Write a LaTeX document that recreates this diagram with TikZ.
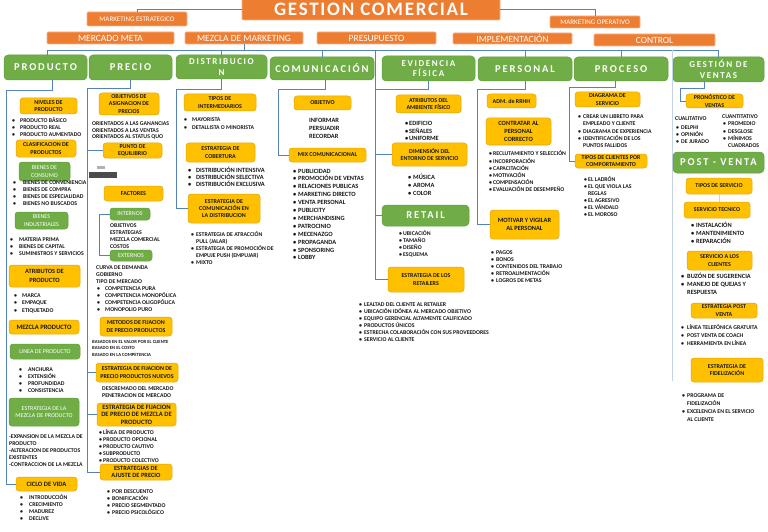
\documentclass[tikz,border=0pt]{standalone}
\usepackage{fontspec}
\setmainfont{Carlito}
\newfontfamily\hdfont{Carlito}[LetterSpace=18]
\newfontfamily\gcfont{Carlito}[LetterSpace=9]
\definecolor{orng}{RGB}{237,125,49}
\definecolor{orngL}{RGB}{246,180,140}
\definecolor{grn}{RGB}{112,173,71}
\definecolor{grnD}{RGB}{98,158,60}
\definecolor{yel}{RGB}{255,192,0}
\definecolor{yelD}{RGB}{225,165,10}
\definecolor{lnc}{RGB}{84,130,190}
\definecolor{ink}{RGB}{25,25,25}
\tikzset{
 obox/.style={fill=orng, draw=orngL, line width=0.6pt, text=white, inner sep=0pt, rounded corners=1pt, font=\fontsize{9.5}{10}\selectfont},
 gbox/.style={fill=grn, draw=grnD, line width=0.5pt, text=white, inner sep=0pt, rounded corners=4pt, align=center},
 ghead/.style={gbox, font=\hdfont\bfseries\fontsize{10.5}{11}\selectfont},
 ghead2/.style={gbox, font=\hdfont\bfseries\fontsize{9}{10.5}\selectfont},
 gsub/.style={gbox, rounded corners=3pt, font=\fontsize{6}{7.5}\selectfont},
 ybox/.style={fill=yel, draw=yelD, line width=0.5pt, text=ink, inner sep=0pt, rounded corners=3pt, align=center, font=\bfseries\fontsize{6}{7.4}\selectfont},
 txt/.style={anchor=base west, inner sep=0pt, text=ink, font=\bfseries\fontsize{5.8}{6}\selectfont},
 tbig/.style={font=\bfseries\fontsize{6.4}{7}\selectfont},
 tsm/.style={font=\bfseries\fontsize{4.7}{5}\selectfont},
 link/.style={draw=lnc, line width=0.8pt},
 sep/.style={draw=lnc!35, line width=0.8pt},
}
% box: [extra]{style}{name}{x1}{y1}{x2}{y2}{text}
\newcommand\BX[8][]{\node[#2,#1,minimum width={(#6-#4)*1pt},minimum height={(#7-#5)*1pt}] (#3) at ({(#4+#6)/2},{(#5+#7)/2}) {#8};}
% list: [extra]{name}{xbullet}{xtext}{y0}{dy}{marker/text,...}
\newcommand\LL[7][]{%
  \foreach \mk/\tx [count=\i] in {#7}{%
    \node[txt,#1] (#2-\i) at (#4,{#5+2+(\i-1)*#6}) {\tx};
    \if\mk b\node[txt,#1] (#2-b\i) at (#3,{#5+2+(\i-1)*#6}) {•};\fi
  }}
\begin{document}
\begin{tikzpicture}[x=1pt,y=-1pt]
\useasboundingbox[fill=white] (0,0) rectangle (768,532);

% ---------- header ----------
\BX[font=\gcfont\bfseries\fontsize{19}{20}\selectfont]{obox}{gc}{242}{-1}{500}{20}{GESTION COMERCIAL}
\BX[font=\fontsize{7}{8}\selectfont]{obox}{me}{87}{12}{187}{26}{MARKETING ESTRATEGICO}
\BX[font=\fontsize{7}{8}\selectfont]{obox}{mo}{550}{16}{640}{28}{MARKETING OPERATIVO}
\BX{obox}{mm}{47}{32}{174}{44}{MERCADO META}
\BX{obox}{mz}{185}{32}{303}{44}{MEZCLA DE MARKETING}
\BX{obox}{pr}{317}{32}{436}{44}{PRESUPUESTO}
\BX{obox}{im}{453}{33}{572}{44}{IMPLEMENTACIÓN}
\BX{obox}{ct}{594}{34}{715}{46}{CONTROL}

% ---------- green headers ----------
\BX{ghead}{prod}{4}{55}{87}{80}{PRODUCTO}
\BX{ghead}{prec}{89}{55}{172}{80}{PRECIO}
\BX{ghead2}{dist}{176}{55}{267}{79}{DISTRIBUCIO\\N}
\BX{ghead}{com}{270}{57}{374}{80}{COMUNICACIÓN}
\BX{ghead2}{evid}{382}{56}{475}{81}{EVIDENCIA\\FÍSICA}
\BX{ghead}{pers}{478}{57}{572}{81}{PERSONAL}
\BX{ghead}{proc}{574}{57}{668}{81}{PROCESO}
\BX{ghead2}{gv}{673}{57}{764}{82}{GESTIÓN DE\\VENTAS}

% ---------- connectors top ----------
\coordinate (busL) at (47,50);
\coordinate (busR) at (719,50);
\coordinate (sepE) at (375,50);
\coordinate (sepG) at (672,50);
\coordinate (sepGb) at (672,381);
\draw[link] (gc.west) -| (me.north);
\draw[link] (gc.east) -| (mo.north);
\draw[link] (busL) -- (busR);
\draw[link] (mz.south) -- (mz.south |- busL);
\draw[link] (busL) -- (busL |- prod.north);
\draw[link] (dist.north |- busL) -- (dist.north);
\draw[link] (com.north |- busL) -- (com.north);
\draw[link] (pers.north |- busL) -- (pers.north);
\draw[link] (proc.north |- busL) -- (proc.north);
\draw[link] (gv.north |- busL) -- (gv.north);
\draw[sep] (sepG) -- (sepGb);

% ---------- PRODUCTO column ----------
\BX{ybox}{niv}{20}{98}{77}{114}{NIVELES DE\\PRODUCTO}
\LL{l1}{12}{20}{121}{7}{b/PRODUCTO BÁSICO, b/PRODUCTO REAL, b/PRODUCTO AUMENTADO}
\BX{ybox}{clas}{16}{140}{76}{157}{CLASIFICACION DE\\PRODUCTOS}
\BX{gsub}{bcons}{19}{162}{70}{181}{BIENES DE\\CONSUMO}
\LL{l2}{13}{23}{182}{7}{b/BIENES DE CONVENIENCIA, b/BIENES DE COMPRA, b/BIENES DE ESPECIALIDAD, b/BIENES  NO BUSCADOS}
\BX{gsub}{bind}{15}{212}{68}{229}{BIENES\\INDUSTRIALES}
\LL{l3}{10}{19}{239}{7}{b/MATERIA PRIMA, b/BIENES DE CAPITAL, b/SUMINISTROS Y SERVICIOS}
\BX[font=\bfseries\fontsize{6.4}{8.5}\selectfont]{ybox}{atr}{9}{265}{80}{287}{ATRIBUTOS DE\\PRODUCTO}
\LL{l4}{14}{22}{295}{7.5}{b/MARCA, b/EMPAQUE, b/ETIQUETADO}
\BX[font=\bfseries\fontsize{6.6}{8}\selectfont]{ybox}{mzp}{9}{320}{79}{334}{MEZCLA PRODUCTO}
\BX{gsub}{linea}{10}{344}{80}{359}{LINEA DE PRODUCTO}
\LL{l5}{19}{28}{369}{7}{b/ANCHURA, b/EXTENSIÓN, b/PROFUNDIDAD, b/CONSISTENCIA}
\BX{gsub}{estmz}{9}{398}{79}{426}{ESTRATEGIA DE LA\\MEZCLA DE PRODUCTO}
\LL{l6}{9}{9}{436}{7}{n/-EXPANSION DE LA MEZCLA DE, n/PRODUCTO, n/-ALTERACION DE PRODUCTOS, n/EXISTENTES, n/-CONTRACCION DE LA MEZCLA}
\BX[font=\bfseries\fontsize{6.6}{8}\selectfont]{ybox}{ciclo}{16}{477}{77}{491}{CICLO DE VIDA}
\LL{l7}{20}{29}{497}{7}{b/INTRODUCCIÓN, b/CRECIMIENTO, b/MADUREZ, b/DECLIVE}
\coordinate (c1) at (6,90);
\draw[link] ([xshift=6.5]prod.south) |- (c1) |- (ciclo.west);

% ---------- PRECIO column ----------
\BX{ybox}{obj}{99}{93}{159}{115}{OBJETIVOS DE\\ASIGNACION DE\\PRECIOS}
\LL{l8}{92}{92}{123}{7}{n/ORIENTADOS A LAS GANANCIAS, n/ORIENTADOS A LAS VENTAS, n/ORIENTADOS AL STATUS QUO}
\BX{ybox}{punto}{103}{143}{162}{158}{PUNTO DE\\EQUILIBRIO}
\fill[black!30] (97,166) rectangle (105,169);
\fill[black!70] (89,172) rectangle (117,177.5);
\BX{ybox}{fact}{104}{186}{163}{201}{FACTORES}
\BX{gsub}{intern}{110}{208}{150}{220}{INTERNOS}
\LL{l9}{110}{110}{225}{7}{n/OBJETIVOS, n/ESTRATEGIAS, n/MEZCLA COMERCIAL, n/COSTOS}
\BX{gsub}{extern}{110}{250}{152}{261}{EXTERNOS}
\draw[link] (intern.west) -- ++(-10,0) |- (extern.west);
\LL{l10}{96}{96}{267}{7}{n/CURVA DE DEMANDA, n/GOBIERNO, n/TIPO DE MERCADO}
\LL{l11}{97}{105}{288}{7}{b/COMPETENCIA PURA, b/COMPETENCIA MONOPÓLICA, b/COMPETENCIA OLIGOPÓLICA, b/MONOPOLIO PURO}
\BX{ybox}{metod}{100}{317}{172}{336}{METODOS DE FIJACION\\DE PRECIO PRODUCTOS}
\LL[tsm]{l12}{92}{92}{341}{6.5}{n/BASADOS EN EL VALOR POR EL CLIENTE, n/BASADO EN EL COSTO, n/BASADO EN LA COMPETENCIA}
\BX{ybox}{nuevos}{96}{363}{178}{382}{ESTRATEGIA DE FIJACION DE\\PRECIO PRODUCTOS NUEVOS}
\LL{l13}{102}{102}{388}{7}{n/DESCREMADO DEL MERCADO, n/PENETRACION DE MERCADO}
\BX[font=\bfseries\fontsize{6.6}{7.6}\selectfont]{ybox}{mzpre}{97}{403}{176}{426}{ESTRATEGIA DE FIJACION\\DE PRECIO DE MEZCLA DE\\PRODUCTO}
\LL{l14}{99}{103}{432}{7}{b/LÍNEA DE PRODUCTO, b/PRODUCTO OPCIONAL, b/PRODUCTO CAUTIVO, b/SUBPRODUCTO, b/PRODUCTO COLECTIVO}
\BX[font=\bfseries\fontsize{6.4}{7.6}\selectfont]{ybox}{ajuste}{100}{464}{172}{480}{ESTRATEGIAS DE\\AJUSTE DE PRECIO}
\LL{l15}{107}{112}{491}{7}{b/POR DESCUENTO, b/BONIFICACIÓN, b/PRECIO SEGMENTADO, b/PRECIO PSICOLÓGICO}
\coordinate (p1) at (87,88);
\draw[link] (prec.south) |- (p1) |- (ajuste.west);
\draw[link] (p1 |- punto.west) -- (punto.west);
\draw[link] (p1 |- nuevos.west) -- (nuevos.west);
\draw[link] (p1 |- mzpre.west) -- (mzpre.west);

% ---------- DISTRIBUCION column ----------
\BX{ybox}{tint}{184}{94}{256}{111}{TIPOS DE\\INTERMEDIARIOS}
\LL{l16}{184}{192}{120}{7}{b/MAYORISTA, b/DETALLISTA O MINORISTA}
\BX{ybox}{cob}{186}{143}{255}{162}{ESTRATEGIA DE\\COBERTURA}
\LL[tbig]{l17}{188}{196}{170}{7}{b/DISTRIBUCIÓN INTENSIVA, b/DISTRIBUCIÓN SELECTIVA, b/DISTRIBUCIÓN EXCLUSIVA}
\BX{ybox}{estcom}{188}{194}{260}{223}{ESTRATEGIA DE\\COMUNICACIÓN EN\\LA DISTRIBUCION}
\LL{l18}{191}{196}{234}{7}{b/ESTRATEGIA DE ATRACCIÓN, n/PULL (JALAR), b/ESTRATEGIA DE PROMOCIÓN DE, n/EMPUJE PUSH (EMPUJAR), b/MIXTO}
\coordinate (d1) at (176,89);
\draw[link] (dist.south) |- (d1) |- (estcom.west);

% ---------- COMUNICACION column ----------
\BX{ybox}{objc}{294}{96}{351}{110}{OBJETIVO}
\LL[tbig]{l19}{309}{309}{121}{8}{n/INFORMAR, n/PERSUADIR, n/RECORDAR}
\BX{ybox}{mix}{289}{148}{366}{162}{MIX COMUNICACIONAL}
\LL[tbig]{l20}{293}{298}{171}{7.9}{b/PUBLICIDAD, b/PROMOCIÓN DE VENTAS, b/RELACIONES PUBLICAS, b/MARKETING DIRECTO, b/VENTA PERSONAL, b/PUBLICITY, b/MERCHANDISING, b/PATROCINIO, b/MECENAZGO, b/PROPAGANDA, b/SPONSORING, b/LOBBY}
\coordinate (k1) at (278,89);
\draw[link] ([xshift=3]com.south) |- (k1) |- (mix.west);

% ---------- EVIDENCIA column ----------
\BX{ybox}{atra}{396}{95}{461}{113}{ATRIBUTOS DEL\\AMBIENTE  FÍSICO}
\LL[tbig]{l21}{405}{409}{123}{8}{b/EDIFICIO, b/SEÑALES, b/UNIFORME}
\BX{ybox}{dimen}{392}{143}{467}{166}{DIMENSIÓN DEL\\ENTORNO DE SERVICIO}
\LL[tbig]{l22}{408}{413}{177}{8}{b/MÚSICA, b/AROMA, b/COLOR}
\BX{ghead}{retail}{382}{205}{469}{226}{RETAIL}
\LL{l23}{399}{403}{233}{7}{b/UBICACIÓN, b/TAMAÑO, b/DISEÑO, b/ESQUEMA}
\BX{ybox}{estret}{388}{267}{464}{292}{ESTRATEGIA DE LOS\\RETAILERS}
\LL{l24}{359}{364}{304}{7}{b/LEALTAD DEL CLIENTE AL RETAILER, b/UBICACIÓN IDÓNEA AL MERCADO OBJETIVO, b/EQUIPO GERENCIAL ALTAMENTE CALIFICADO, b/PRODUCTOS ÚNICOS, b/ESTRECHA COLABORACIÓN CON SUS PROVEEDORES, b/SERVICIO AL CLIENTE}
\coordinate (e1) at (375,89);
\draw[link] (evid.south) |- (e1);
\draw[link] (sepE) |- (estret.west);
\draw[link] (sepE |- dimen.west) -- (dimen.west);
\draw[link] (sepE |- retail.west) -- (retail.west);

% ---------- PERSONAL column ----------
\BX{ybox}{adm}{487}{94}{536}{108}{ADM. de RRHH}
\BX[font=\bfseries\fontsize{6.4}{8}\selectfont]{ybox}{contr}{486}{118}{551}{145}{CONTRATAR AL\\PERSONAL\\CORRECTO}
\LL{l25}{489}{493}{154}{7}{b/RECLUTAMIENTO Y SELECCIÓN, b/INCORPORACIÓN, b/CAPACITACIÓN, b/MOTIVACIÓN, b/COMPENSACIÓN, b/EVALUACIÓN DE DESEMPEÑO}
\BX[font=\bfseries\fontsize{6.4}{8}\selectfont]{ybox}{motiv}{490}{210}{559}{239}{MOTIVAR Y VIGILAR\\AL PERSONAL}
\LL{l26}{491}{496}{252}{7}{b/PAGOS, b/BONOS, b/CONTENIDOS DEL TRABAJO, b/RETROALIMENTACIÓN, b/LOGROS DE METAS}
\coordinate (q1) at (477,89);
\draw[link] (pers.south) |- (q1) |- (motiv.west);

% ---------- PROCESO column ----------
\BX{ybox}{diag}{575}{92}{640}{107}{DIAGRAMA DE\\SERVICIO}
\LL{l27}{578}{583}{117}{7}{b/CREAR UN LIBRETO PARA, n/EMPLEADO Y CLIENTE, b/DIAGRAMA DE EXPERIENCIA, b/IDENTIFICACIÓN DE LOS, n/PUNTOS FALLIDOS}
\BX{ybox}{tiposcl}{575}{154}{647}{168}{TIPOS DE CLIENTES POR\\COMPORTAMIENTO}
\LL{l28}{584}{588}{179}{7}{b/EL LADRÓN, b/EL QUE VIOLA LAS, n/REGLAS, b/EL AGRESIVO, b/EL VÁNDALO, b/EL MOROSO}
\coordinate (r1) at (569,87);
\draw[link] ([xshift=-6]proc.south) |- (r1) |- (tiposcl.west);

% ---------- GESTION DE VENTAS column ----------
\BX{ybox}{pron}{686}{94}{743}{108}{PRONÓSTICO DE\\VENTAS}
\LL{l29}{675}{675}{119}{7}{n/CUALITATIVO}
\LL{l30}{676}{681}{127}{7}{b/DELPHI, b/OPINIÓN, b/ DE JURADO}
\LL{l31}{722}{722}{117}{7}{n/CUANTITATIVO}
\LL{l32}{723}{728}{124}{7}{b/PROMEDIO, b/DESGLOSE, b/MÍNIMOS, n/CUADRADOS}
\coordinate (g1) at (680,88);
\draw[link] ([xshift=-14.5]gv.south) |- (g1) |- (pron.west);
\BX{ghead}{pv}{673}{152}{764}{173}{POST - VENTA}
\BX{ybox}{tserv}{686}{178}{752}{194}{TIPOS DE SERVICIO}
\BX{ybox}{stec}{684}{202}{750}{218}{SERVICIO TECNICO}
\draw[sep] (tserv.south) -- (tserv.south |- stec.north);
\LL[tbig]{l33}{691}{696}{225}{8}{b/INSTALACIÓN, b/MANTENIMIENTO, b/REPARACIÓN}
\BX{ybox}{scli}{687}{251}{752}{270}{SERVICIO A LOS\\CLIENTES}
\LL[tbig]{l34}{681}{687}{276}{8}{b/BUZÓN DE SUGERENCIA, b/MANEJO DE QUEJAS Y, n/RESPUESTA}
\BX{ybox}{epv}{691}{303}{757}{318}{ESTRATEGIA POST\\VENTA}
\LL{l35}{681}{687}{327}{8}{b/LÍNEA TELEFÓNICA GRATUITA, b/POST VENTA DE COACH, b/HERRAMIENTA EN LÍNEA}
\BX{ybox}{fid}{691}{358}{763}{382}{ESTRATEGIA DE\\FIDELIZACIÓN}
\LL{l36}{682}{687}{395}{8}{b/PROGRAMA DE, n/FIDELIZACIÓN, b/EXCELENCIA EN EL SERVICIO, n/AL CLIENTE}
\end{tikzpicture}
\end{document}
